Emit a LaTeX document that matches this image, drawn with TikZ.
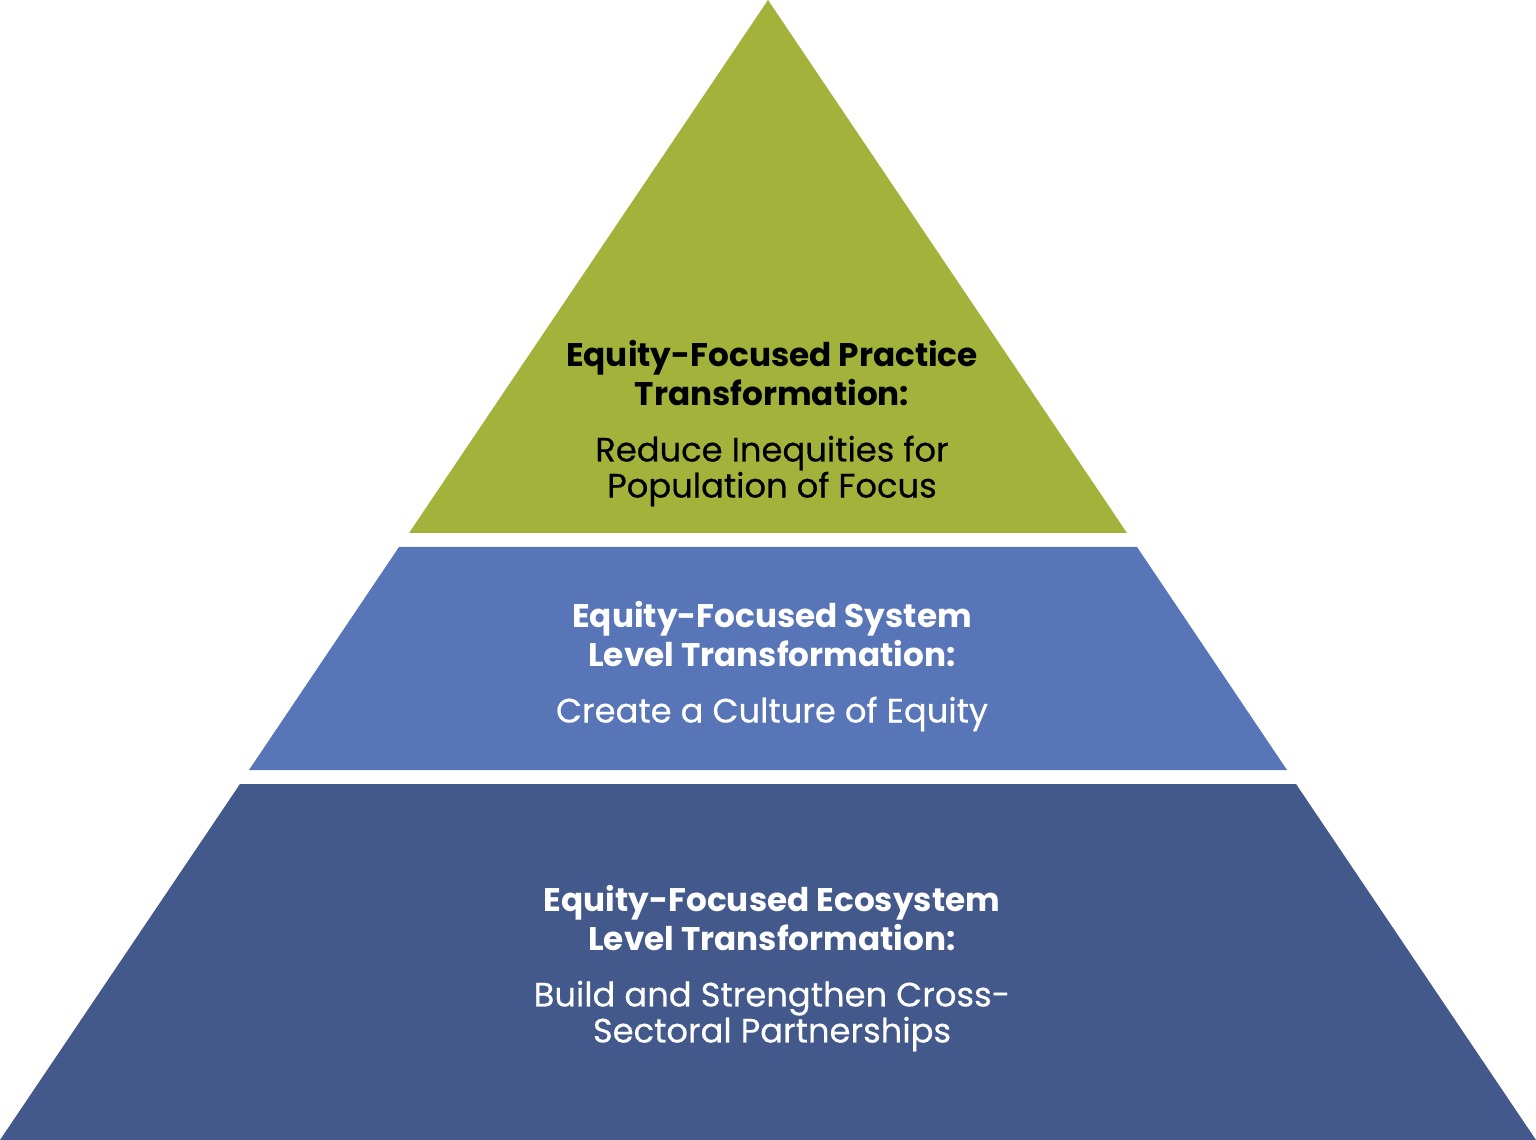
\documentclass[tikz,border=0pt]{standalone}
\usepackage{fontspec}
\setmainfont{Poppins}
\newfontfamily\aimfont[FakeBold=0.4]{Poppins}
\definecolor{practicegreen}{HTML}{A3B23A}
\definecolor{systemblue}{HTML}{5875B7}
\definecolor{ecoblue}{HTML}{43588B}
\begin{document}
\begin{tikzpicture}
  [x=0.01cm, y=-0.01cm,
  head/.style={font=\bfseries\fontsize{9.3}{11.1}\selectfont, align=center},
  aim/.style={font=\aimfont\fontsize{9.6}{10.25}\selectfont, align=center},
  ]
  \useasboundingbox (0,0) rectangle (1536,1140);
  % tiers
  \fill[practicegreen] (768,0) -- (1127,533) -- (409,533) -- cycle;
  \fill[systemblue] (399,547) -- (1137,547) -- (1287,770) -- (249,770) -- cycle;
  \fill[ecoblue] (240,784) -- (1296,784) -- (1536,1140) -- (0,1140) -- cycle;
  % labels
  \node[head] (practice) at (772,373) {Equity-Focused Practice\\Transformation:};
  \node[aim] (practiceaim) at (772,471) {Reduce Inequities for\\Population of Focus};
  \node[head, text=white] (system) at (772,634) {Equity-Focused System\\Level Transformation:};
  \node[aim, text=white] (systemaim) at (772,714) {Create a Culture of Equity};
  \node[head, text=white] (eco) at (772,918) {Equity-Focused Ecosystem\\Level Transformation:};
  \node[aim, text=white] (ecoaim) at (772,1016) {Build and Strengthen Cross-\\Sectoral Partnerships};
\end{tikzpicture}
\end{document}
